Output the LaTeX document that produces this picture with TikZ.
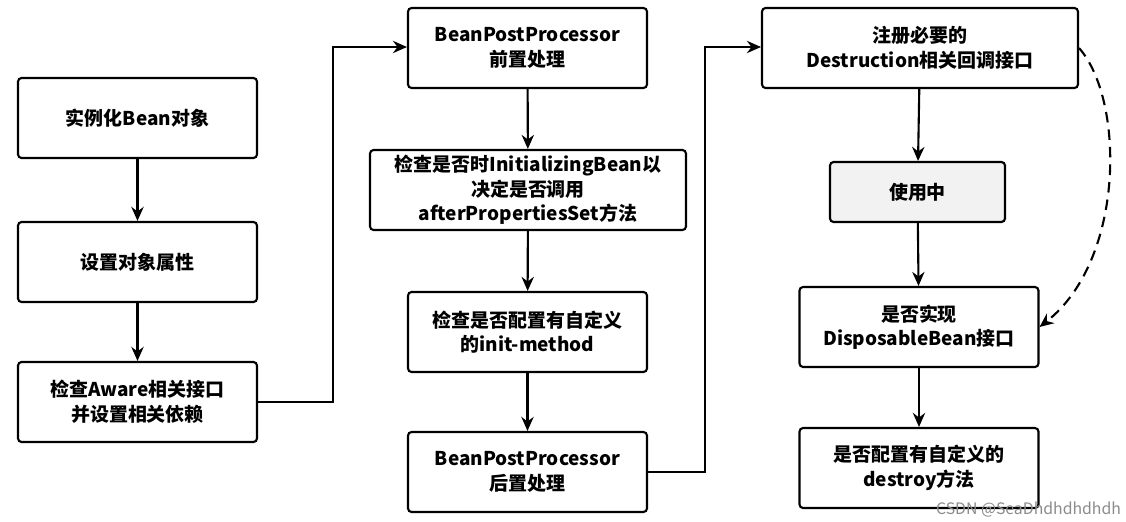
\documentclass[tikz,border=0pt]{standalone}
\usepackage{fontspec}
\setmainfont{Noto Sans CJK SC}
\usetikzlibrary{arrows.meta}

\begin{document}
\begin{tikzpicture}[x = 0.02cm, y = -0.02cm, > = {Stealth[length=8pt, width=7pt]}, line width = 1.2pt,
    every node/.style = {draw, rounded corners = 2pt, align = center, font = \bfseries\fontsize{10.8}{14}\selectfont, inner sep = 0pt},
    box/.style = {minimum width = 4.78cm, minimum height = 1.6cm},
    wide/.style = {minimum width = 6.32cm, minimum height = 1.6cm}]
    \useasboundingbox (0, 0) rectangle (1126, 521);
    % first column
    \node[box] (new) at (137.5, 118)   {实例化Bean对象};
    \node[box] (prop) at (137.5, 262)   {设置对象属性};
    \node[box] (aware) at (137.5, 402)   {检查Aware相关接口\\并设置相关依赖};
    % second column
    \node[box] (pre) at (527.5, 48)   {BeanPostProcessor\\前置处理};
    \node[wide] (init) at (528, 190)   {检查是否时InitializingBean以\\决定是否调用\\afterPropertiesSet方法};
    \node[box] (method) at (527.5, 332)   {检查是否配置有自定义\\的init-method};
    \node[box] (post) at (527.5, 472)   {BeanPostProcessor\\后置处理};
    % third column
    \node[wide] (reg) at (920, 48)   {注册必要的\\Destruction相关回调接口};
    \node[minimum width = 3.5cm, minimum height = 1.2cm, fill = black!5] (use) at (917.5, 192)   {使用中};
    \node[box] (disp) at (919, 327)   {是否实现\\DisposableBean接口};
    \node[box] (destroy) at (919, 468)   {是否配置有自定义的\\destroy方法};
    \draw[->] (new) -- (prop);
    \draw[->] (prop) -- (aware);
    \draw[->] (aware.east) -- (333, 402) -- (333, 47) -- (pre.west |- 0, 47);
    \draw[->] (pre) -- (init);
    \draw[->] (init) -- (method);
    \draw[->] (method) -- (post);
    \draw[->] (post.east) -- (705, 472) -- (705, 47) -- (reg.west |- 0, 47);
    \draw[->] (reg) -- (use);
    \draw[->] (use) -- (disp);
    \draw[->] (disp) -- (destroy);
    \draw[->, dash pattern = on 6pt off 4pt] (reg.east) .. controls (1125, 100) and (1125, 260) .. (disp.east);
    \node[draw = none, text = black!45, font = \fontsize{9}{11}\selectfont, anchor = south east] (mark) at (1122, 518) {CSDN @SeaDhdhdhdhdh};
\end{tikzpicture}
\end{document}
